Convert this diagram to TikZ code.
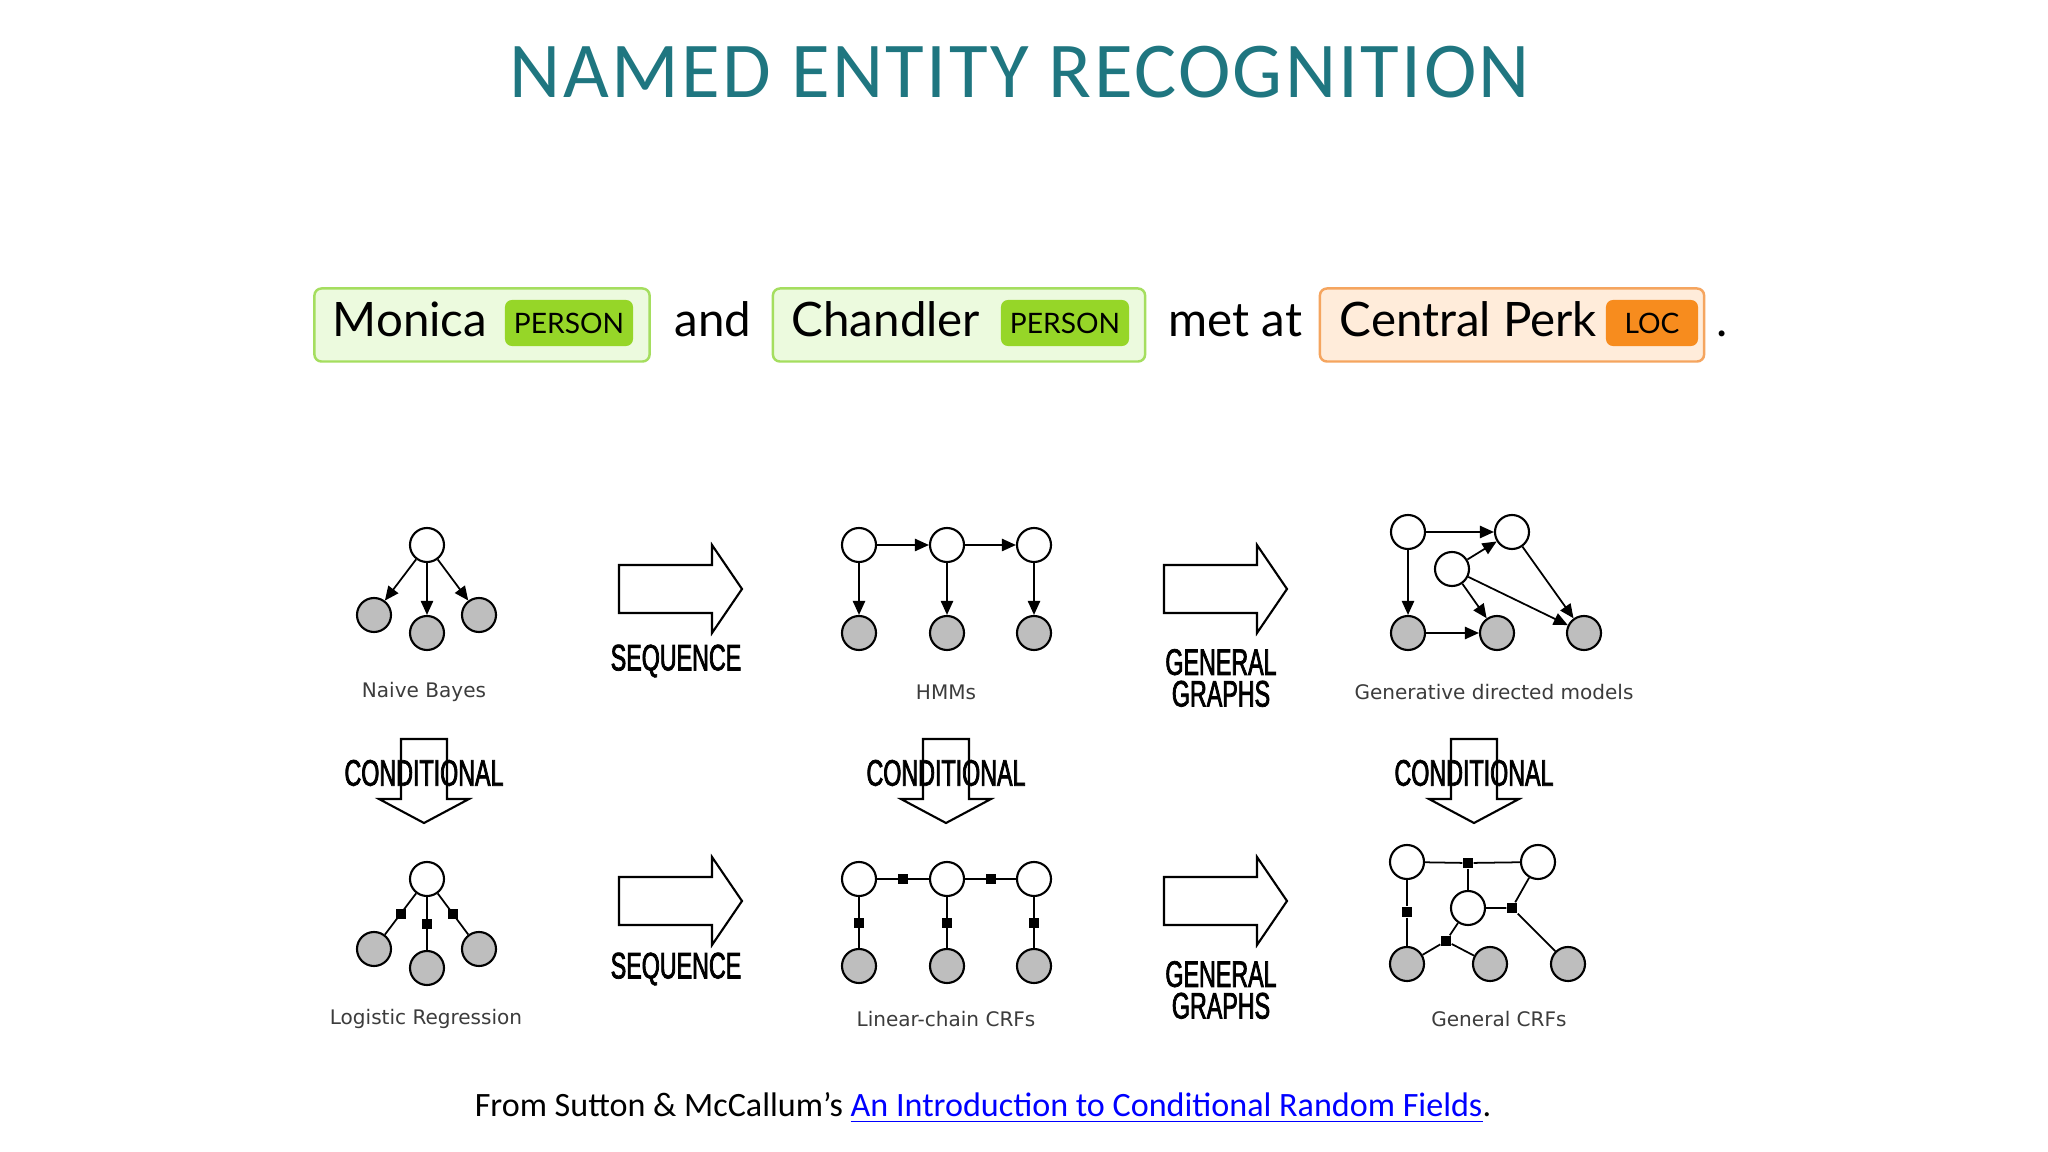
\documentclass[tikz,border=0pt]{standalone}
\usepackage{fontspec}
\setmainfont{Carlito}
\newfontfamily\entfont{Lato}
\newfontfamily\lblfont{DejaVu Sans}
\newfontfamily\condfont[FakeStretch=0.63,FakeBold=2]{Liberation Sans}
\usetikzlibrary{arrows.meta}
\definecolor{tealc}{RGB}{31,118,128}
\definecolor{pfill}{RGB}{236,250,222}
\definecolor{pdraw}{RGB}{165,222,95}
\definecolor{ptag}{RGB}{150,214,40}
\definecolor{lfill}{RGB}{255,236,218}
\definecolor{ldraw}{RGB}{245,165,95}
\definecolor{ltag}{RGB}{247,140,30}
\definecolor{nodegray}{RGB}{190,190,190}
\definecolor{lbl}{RGB}{60,60,60}
\tikzset{
 open/.style={circle,draw,line width=0.6pt,fill=white,minimum size=0.34cm,inner sep=0pt},
 obs/.style={circle,draw,line width=0.6pt,fill=nodegray,minimum size=0.34cm,inner sep=0pt},
 fac/.style={rectangle,fill=black,minimum size=0.1cm,inner sep=0pt},
 edge/.style={line width=0.5pt,-{Triangle[length=4pt,width=3.5pt]}},
 und/.style={line width=0.5pt},
 bigarrow/.style={draw,line width=0.6pt,fill=white},
 lab/.style={font=\lblfont\fontsize{5.7}{7}\selectfont,text=lbl},
 cond/.style={font=\condfont\fontsize{10.5}{11}\selectfont,align=center},
 ent/.style={rounded corners=2pt,line width=0.7pt,minimum height=0.73cm,inner sep=0pt},
 tag/.style={rounded corners=2pt,inner sep=0pt,minimum height=0.46cm,font=\entfont\fontsize{8}{9}\selectfont},
 word/.style={font=\entfont\fontsize{13.5}{15}\selectfont,inner sep=0pt,anchor=base west}
}
\begin{document}
\begin{tikzpicture}[x=0.01cm,y=-0.01cm]
\useasboundingbox (0,0) rectangle (2048,1152);
\fill[white] (0,0) rectangle (2048,1152);
\node[text=tealc,font=\fontsize{22.5}{26}\selectfont\addfontfeature{LetterSpace=3}] (title) at (1020,72) {NAMED ENTITY RECOGNITION};
% entity row
\node[ent,draw=pdraw,fill=pfill,minimum width=3.35cm] (b1) at (482,325) {};
\node[word] (w1) at (332,337) {Monica};
\node[tag,fill=ptag,minimum width=1.28cm] (t1) at (569,323) {PERSON};
\node[word] (and) at (674,337) {and};
\node[ent,draw=pdraw,fill=pfill,minimum width=3.72cm] (b2) at (959,325) {};
\node[word] (w2) at (791,337) {Chandler};
\node[tag,fill=ptag,minimum width=1.28cm] (t2) at (1065,323) {PERSON};
\node[word] (met) at (1168,337) {met at};
\node[ent,draw=ldraw,fill=lfill,minimum width=3.84cm] (b3) at (1512,325) {};
\node[word] (w3) at (1339,337) {Central Perk};
\node[tag,fill=ltag,minimum width=0.92cm] (t3) at (1652,323) {LOC};
\node[word] (dot) at (1716,337) {.};
% big arrows
\foreach \x/\y in {619/589,619/901,1164/589,1164/901}{
 \draw[bigarrow] (\x,\y-24) -- (\x+93,\y-24) -- (\x+93,\y-44) -- (\x+123,\y) -- (\x+93,\y+44) -- (\x+93,\y+24) -- (\x,\y+24) -- cycle;}
\foreach \x in {424,946,1474}{
 \draw[bigarrow] (\x-23,739) -- (\x+23,739) -- (\x+23,799) -- (\x+45,799) -- (\x,823) -- (\x-45,799) -- (\x-23,799) -- cycle;
 \node[cond] at (\x,773) {CONDITIONAL};}
\node[cond] (s1) at (676,661) {SEQUENCE};
\node[cond] (s2) at (676,969) {SEQUENCE};
\node[cond] (g1) at (1221,678) {GENERAL\\[-2pt]GRAPHS};
\node[cond] (g2) at (1221,990) {GENERAL\\[-2pt]GRAPHS};
% Naive Bayes
\node[open] (nb0) at (427,545) {};
\node[obs] (nb1) at (374,615) {};
\node[obs] (nb2) at (427,633) {};
\node[obs] (nb3) at (479,615) {};
\foreach \t in {nb1,nb2,nb3} \draw[edge] (nb0) -- (\t);
\node[lab] at (424,692) {Naive Bayes};
% HMMs
\node[open] (h1) at (859,545) {};
\node[open] (h2) at (947,545) {};
\node[open] (h3) at (1034,545) {};
\node[obs] (o1) at (859,633) {};
\node[obs] (o2) at (947,633) {};
\node[obs] (o3) at (1034,633) {};
\draw[edge] (h1) -- (h2); \draw[edge] (h2) -- (h3);
\draw[edge] (h1) -- (o1); \draw[edge] (h2) -- (o2); \draw[edge] (h3) -- (o3);
\node[lab] at (946,692) {HMMs};
% Generative directed models
\node[open] (ga) at (1408,532) {};
\node[open] (gb) at (1512,532) {};
\node[open] (gc) at (1452,569) {};
\node[obs] (gd) at (1408,633) {};
\node[obs] (ge) at (1497,633) {};
\node[obs] (gf) at (1584,633) {};
\draw[edge] (ga) -- (gb); \draw[edge] (ga) -- (gd); \draw[edge] (gc) -- (gb);
\draw[edge] (gc) -- (ge); \draw[edge] (gc) -- (gf); \draw[edge] (gb) -- (gf);
\draw[edge] (gd) -- (ge);
\node[lab] at (1494,692) {Generative directed models};
% Logistic Regression
\node[open] (lr0) at (427,879) {};
\node[obs] (lr1) at (374,949) {};
\node[obs] (lr2) at (427,968) {};
\node[obs] (lr3) at (479,949) {};
\foreach \t in {lr1,lr2,lr3}{\draw[und] (lr0) -- (\t) node[fac,pos=0.5]{};}
\node[lab] at (426,1019) {Logistic Regression};
% Linear-chain CRFs
\node[open] (c1) at (859,879) {};
\node[open] (c2) at (947,879) {};
\node[open] (c3) at (1034,879) {};
\node[obs] (d1) at (859,966) {};
\node[obs] (d2) at (947,966) {};
\node[obs] (d3) at (1034,966) {};
\draw[und] (c1) -- (c2) node[fac,pos=0.5]{};
\draw[und] (c2) -- (c3) node[fac,pos=0.5]{};
\draw[und] (c1) -- (d1) node[fac,pos=0.5]{};
\draw[und] (c2) -- (d2) node[fac,pos=0.5]{};
\draw[und] (c3) -- (d3) node[fac,pos=0.5]{};
\node[lab] at (946,1019) {Linear-chain CRFs};
% General CRFs
\node[open] (ka) at (1407,862) {};
\node[open] (kb) at (1538,862) {};
\node[open] (kc) at (1468,908) {};
\node[obs] (kd) at (1407,964) {};
\node[obs] (ke) at (1490,964) {};
\node[obs] (kf) at (1568,964) {};
\node[fac] (f1) at (1468,863) {};
\node[fac] (f2) at (1407,912) {};
\node[fac] (f3) at (1446,941) {};
\node[fac] (f4) at (1512,908) {};
\draw[und] (ka) -- (f1) -- (kb); \draw[und] (f1) -- (kc);
\draw[und] (ka) -- (f2) -- (kd);
\draw[und] (kc) -- (f3); \draw[und] (f3) -- (kd); \draw[und] (f3) -- (ke);
\draw[und] (kc) -- (f4) -- (kb); \draw[und] (f4) -- (kf);
\node[lab] at (1499,1019) {General CRFs};
% footer
\node[font=\fontsize{9.7}{11}\selectfont] (foot) at (983,1108) {From Sutton \& McCallum’s \textcolor{blue}{\underline{An Introduction to Conditional Random Fields}}.};
\end{tikzpicture}
\end{document}
